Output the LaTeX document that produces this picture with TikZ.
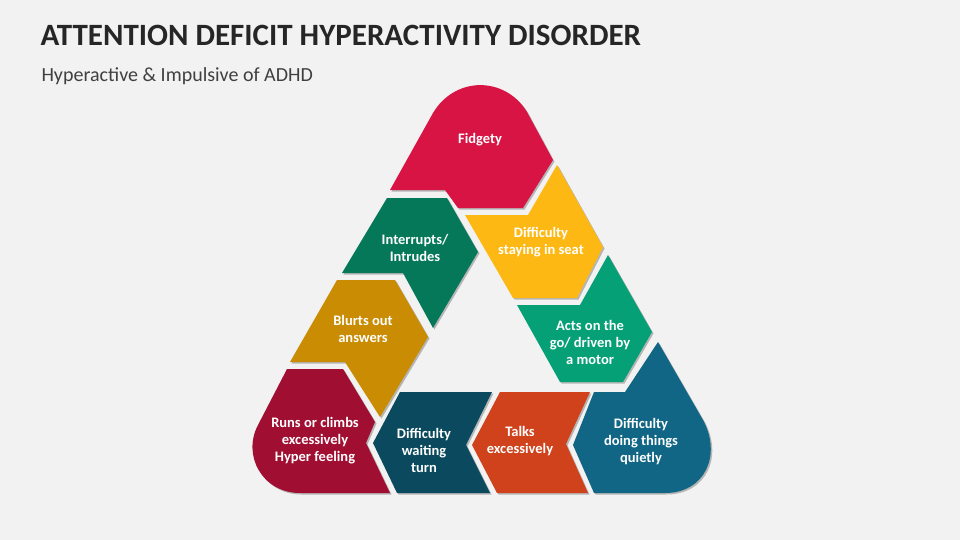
\documentclass[tikz,border=0pt]{standalone}
\usepackage{fontspec}
\setmainfont{Carlito}
\usetikzlibrary{shadows}
\definecolor{bg}{HTML}{F2F2F2}
\definecolor{cFid}{HTML}{D81444}
\definecolor{cSta}{HTML}{FDB813}
\definecolor{cAct}{HTML}{06A077}
\definecolor{cQui}{HTML}{106684}
\definecolor{cTal}{HTML}{CF421C}
\definecolor{cWai}{HTML}{0B4A5E}
\definecolor{cRun}{HTML}{A00F32}
\definecolor{cBlu}{HTML}{C98C02}
\definecolor{cInt}{HTML}{06785A}
\definecolor{ctitle}{HTML}{262626}
\definecolor{csub}{HTML}{404040}
\begin{document}
\begin{tikzpicture}[x=1pt,y=-1pt,
  piece/.style={draw=none,drop shadow={shadow xshift=1.5pt,shadow yshift=-1.5pt,fill=black,opacity=0.25}},
  lbl/.style={text=white,font=\fontsize{14.5}{17}\selectfont\bfseries,align=center}]
\fill[bg] (0,0) rectangle (960,540);
\useasboundingbox (0,0) rectangle (960,540);
\node[anchor=west,text=ctitle,font=\fontsize{31}{36}\selectfont\bfseries] (title) at (37,35) {ATTENTION DEFICIT HYPERACTIVITY DISORDER};
\node[anchor=west,text=csub,font=\fontsize{20}{24}\selectfont] (sub) at (38,76) {Hyperactive \& Impulsive of ADHD};
% pieces
\fill[cFid,piece] (390,190) -- (433,113) .. controls (455,76) and (505,76) .. (527,112) -- (553,160) -- (523,208) -- (458,208) -- (445,190) -- cycle;
\fill[cSta,piece] (465,215) -- (528,215) -- (557,165) -- (603,247) -- (577,298) -- (513,298) -- cycle;
\fill[cAct,piece] (517,305) -- (580,305) -- (608,255) -- (652,332) -- (623,382) -- (560,382) -- cycle;
\fill[cQui,piece] (594,392) -- (625,392) -- (658,342) -- (703,420) .. controls (722,455) and (705,493) .. (665,493) -- (594,493) -- (573,445) -- cycle;
\fill[cTal,piece] (500,392) -- (590,392) -- (566,444) -- (588,493) -- (497,493) -- (472,445) -- cycle;
\fill[cWai,piece] (400,392) -- (492,392) -- (466,445) -- (490,493) -- (397,493) -- (373,443) -- cycle;
\fill[cRun,piece] (287,369) -- (343,369) -- (375,422) -- (366,443) -- (390,493) -- (300,493) .. controls (262,493) and (242,455) .. (258,425) -- cycle;
\fill[cBlu,piece] (337,280) -- (395,280) -- (428,337) -- (380,417) -- (345,362) -- (290,362) -- cycle;
\fill[cInt,piece] (387,198) -- (447,198) -- (478,252) -- (433,328) -- (403,273) -- (342,273) -- cycle;
% labels
\node[lbl] (tFid) at (480,140) {Fidgety};
\node[lbl] (tSta) at (541,242) {Difficulty\\staying in seat};
\node[lbl] (tAct) at (590,342) {Acts on the\\go/ driven by\\a motor};
\node[lbl] (tQui) at (641,442) {Difficulty\\doing things\\quietly};
\node[lbl] (tTal) at (520,441) {Talks\\excessively};
\node[lbl] (tWai) at (424,450) {Difficulty\\waiting\\turn};
\node[lbl] (tRun) at (315,441) {Runs or climbs\\excessively\\Hyper feeling};
\node[lbl] (tBlu) at (363,329) {Blurts out\\answers};
\node[lbl] (tInt) at (415,248) {Interrupts/\\Intrudes};
\end{tikzpicture}
\end{document}
